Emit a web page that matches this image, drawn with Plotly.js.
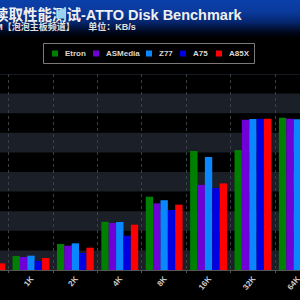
<!DOCTYPE html>
<html>
<head>
<meta charset="utf-8">
<script src="https://cdn.plot.ly/plotly-3.0.1.min.js"></script>
<style>
html,body{margin:0;padding:0;width:300px;height:300px;overflow:hidden;
background:linear-gradient(to bottom,#0b40aa 0px,#0a3a9c 12px,#062670 22px,#01081c 32px,#000 38px,#000 300px);}
#chart{width:300px;height:300px;}
</style>
</head>
<body>
<div id="chart"></div>
<script>
// Transfer sizes (categories) and read speeds in KB/s
const categories = ["0.5K","1K","2K","4K","8K","16K","32K","64K","128K"];
const seriesNames = ["Etron","ASMedia","Z77","A75","A85X"];
const etron   = [18000, 35700, 66300, 123000, 187000, 303600, 306000, 388600, 390000];
const asmedia = [17000, 33200, 62000, 120000, 170000, 217000, 383000, 386000, 388000];
const z77     = [18000, 36500, 68000, 122500, 178000, 288000, 385000, 384500, 387000];
const a75     = [12000, 23000, 43400,  87500, 153000, 209000, 386000, 386000, 388000];
const a85x    = [17000, 30600, 57000, 115600, 166600, 221000, 386000, 386000, 388000];
const colors  = ["#008000","#7000d8","#0a86ff","#0000e0","#ff0000"];
const titleText = "读取性能测试-ATTO Disk Benchmark";
const subtitleText = "PCPOP.COM【泡泡主板频道】　　单位：KB/s";
const yMax = 500000, yStep = 50000;

const W = 300, H = 300, T = 74, B = 30;
const PH = H - T - B;
const py = (ypx) => 1 + (T - ypx) / PH;   // pixel row -> paper y
const px = (xpx) => xpx / W;               // pixel column -> paper x

const values = [etron, asmedia, z77, a75, a85x];
const traces = seriesNames.map((n,i)=>({
  type:"bar", name:n, x:categories, y:values[i],
  marker:{color:colors[i], line:{width:0}}
}));

const shapes = [];
// alternating background bands
for(let v=0, k=0; v<yMax; v+=yStep, k++){
  if(k%2===0){
    shapes.push({type:"rect", xref:"paper", yref:"y", x0:0, x1:1, y0:v, y1:v+yStep,
      fillcolor:"#1b1f27", line:{width:0}, layer:"below"});
  }
}
shapes.push({type:"line", xref:"paper", yref:"y", x0:0, x1:1, y0:yMax, y1:yMax,
  line:{color:"#2a3242", width:1}});

const annotations = [
  {xref:"paper", yref:"paper", x:px(245), xanchor:"right", y:py(14.5), yanchor:"middle",
   text:titleText, showarrow:false,
   font:{family:"Liberation Sans, Noto Sans CJK SC, sans-serif", size:14.5, color:"#f0f0f0", weight:"bold"}},
  {xref:"paper", yref:"paper", x:px(138), xanchor:"right", y:py(27), yanchor:"middle",
   text:subtitleText, showarrow:false,
   font:{family:"Liberation Sans, Noto Sans CJK SC, sans-serif", size:9, color:"#e0e0e0", weight:"bold"}}
];

// legend box drawn in the page (entries from seriesNames / colors)
shapes.push({type:"rect", xref:"paper", yref:"paper", x0:px(43.5), x1:px(254.5), y0:py(63.5), y1:py(43.5),
  fillcolor:"#000", line:{color:"#7a7a7a", width:1}});
const legX = [52, 93, 146, 180, 216];
seriesNames.forEach((n,i)=>{
  shapes.push({type:"rect", xref:"paper", yref:"paper", x0:px(legX[i]), x1:px(legX[i]+6),
    y0:py(56.5), y1:py(50.5), fillcolor:colors[i], line:{width:0}});
  annotations.push({xref:"paper", yref:"paper", x:px(legX[i]+12), xanchor:"left", y:py(53.5), yanchor:"middle",
    text:n, showarrow:false, xshift:-1,
    font:{family:"Liberation Sans, Arial, sans-serif", size:8, color:"#d8d8d8", weight:"bold"}});
});

const layout = {
  width:W, height:H,
  margin:{l:0, r:0, t:T, b:B},
  paper_bgcolor:"rgba(0,0,0,0)",
  plot_bgcolor:"#000000",
  barmode:"group", bargap:0.17, bargroupgap:0,
  showlegend:false,
  xaxis:{type:"category", range:[0.302, 7.06], tickson:"boundaries",
    showgrid:true, gridcolor:"#3a3f48", griddash:"dot", gridwidth:1,
    showline:true, linecolor:"#555", ticks:"outside", ticklen:2, tickcolor:"#555",
    tickangle:-50, tickfont:{family:"Liberation Sans, Arial, sans-serif", size:8, color:"#d0d0d0", weight:"bold"},
    fixedrange:true},
  yaxis:{range:[0,yMax], dtick:yStep, showgrid:false, zeroline:false,
    showticklabels:false, fixedrange:true},
  shapes:shapes,
  annotations:annotations
};
Plotly.newPlot("chart", traces, layout, {staticPlot:true, displayModeBar:false});
</script>
</body>
</html>
